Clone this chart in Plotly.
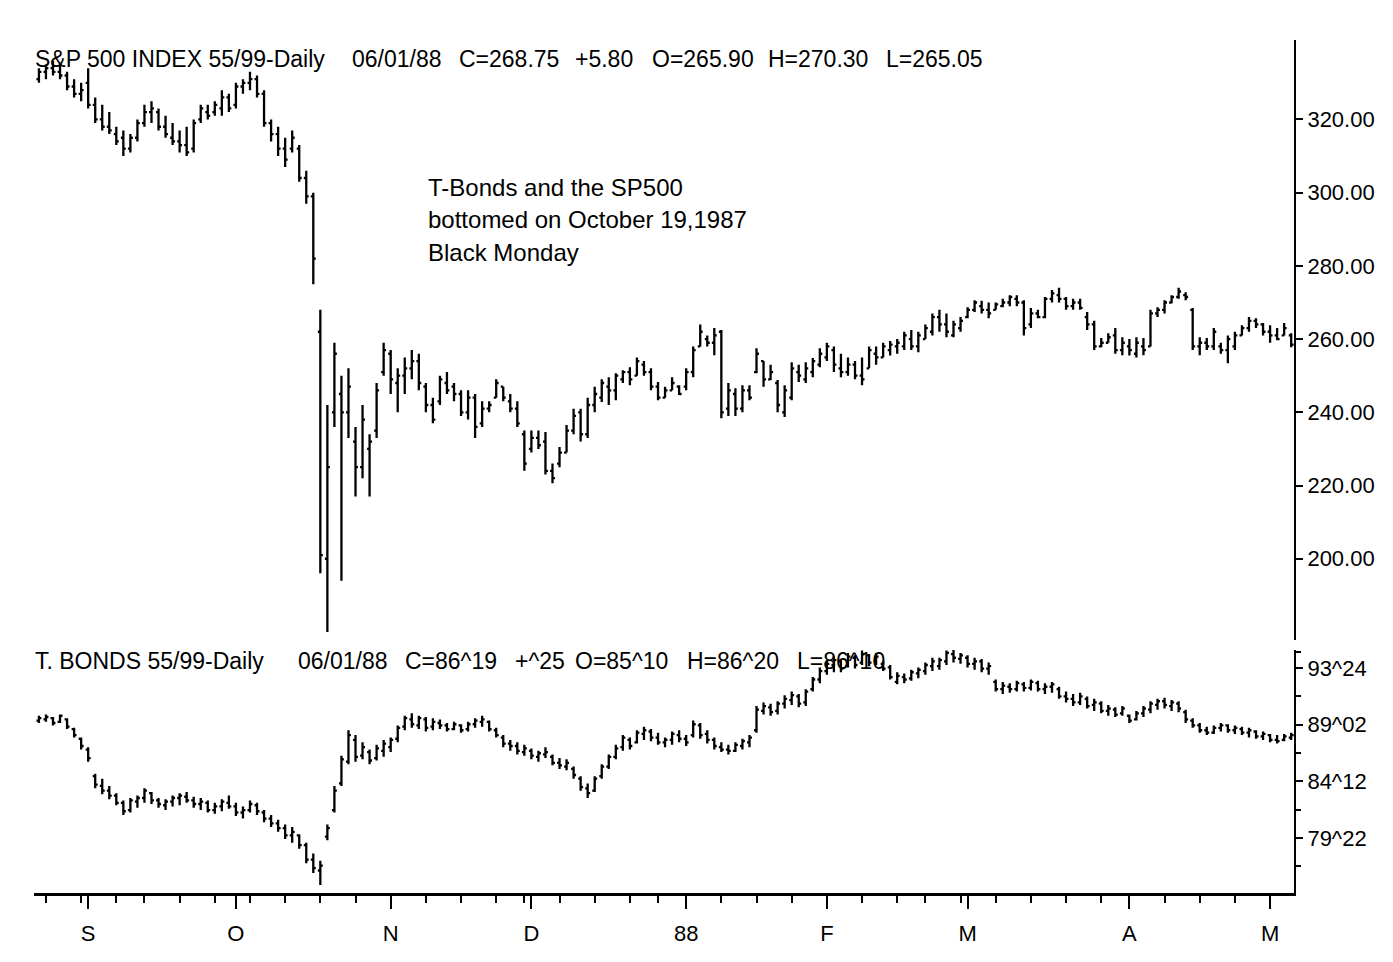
import pandas as pd
import plotly.graph_objects as go

# Trading calendar Aug 21 1987 - May 5 1988 (NYSE holidays removed)
HOLIDAYS = ["1987-09-07", "1987-11-26", "1987-12-25", "1988-01-01", "1988-02-15", "1988-04-01"]
dates = pd.bdate_range("1987-08-21", "1988-05-05", freq="C", holidays=HOLIDAYS)

MONTH_LABELS = ["S", "O", "N", "D", "88", "F", "M", "A", "M"]

# S&P 500 (daily OHLC)
sp_open = [331, 333, 334, 333, 332, 329, 327, 330, 324, 320, 318, 316, 315, 312, 315, 319, 322, 322, 318, 315,
           314, 313, 312, 320, 322, 322, 323, 326, 324, 329, 330, 331, 327, 319, 316, 312, 312, 312, 304, 299,
           262, 200, 240, 245, 240, 232, 225, 230, 235, 251, 256, 248, 250, 252, 254, 247, 242, 243, 248, 247,
           245, 240, 244, 237, 241, 244, 247, 243, 241, 234, 230, 233, 232, 224, 226, 229, 235, 240, 234, 242,
           244, 247, 246, 249, 251, 250, 253, 251, 247, 244, 246, 247, 247, 251, 258, 260, 259, 262, 241, 245,
           241, 246, 251, 254, 249, 248, 240, 244, 251, 249, 251, 253, 255, 257, 252, 251, 253, 250, 252, 256,
           255, 257, 258, 258, 260, 258, 260, 262, 266, 264, 261, 263, 266, 268, 269, 268, 268, 269, 270, 271,
           270, 264, 267, 266, 271, 272, 271, 269, 270, 266, 264, 258, 259, 261, 257, 258, 256, 258, 258, 267,
           268, 270, 271.5, 272, 268, 258, 259, 258, 258, 257, 258, 261, 263, 265, 264, 262, 261, 261, 261]
sp_high = [334, 335, 336, 335, 333, 331, 330, 334, 326, 324, 322, 318, 317, 316, 320, 324, 325, 323, 321, 319,
           317, 318, 320, 324, 324, 325, 328, 327, 330, 331, 333, 332, 328, 320, 318, 315, 317, 313, 306, 300,
           268, 242, 259, 250, 252, 236, 242, 234, 248, 259, 257, 252, 255, 257, 256, 248, 244, 250, 251, 248,
           246, 246, 245, 243, 243, 249, 247, 245, 243, 235, 235, 235, 234.6, 226, 230.5, 236.5, 241, 241, 244, 247,
           249, 249.6, 250.7, 251.5, 252.3, 255, 254, 252, 248.3, 247, 249.6, 247.4, 252, 258, 264, 261, 263, 262.5, 248, 246.6,
           247.4, 247.4, 257.5, 254, 253, 248.8, 247.4, 253.7, 253, 253.7, 254.8, 257.5, 259, 258, 256, 255, 254, 255, 258, 258,
           259, 259.5, 260, 262, 262.5, 262, 264, 267, 268, 267, 265, 266, 268.7, 270.6, 270.5, 270, 270, 271, 272, 272,
           270.6, 268.5, 268, 271.5, 273.4, 274, 271.5, 271, 271, 267.4, 265, 260.3, 261.6, 263, 260.5, 260, 260.5, 260.3, 268, 268.7,
           270.6, 272, 274, 272.8, 268.5, 260.5, 260.3, 263, 259, 261, 262, 263.8, 266, 265.7, 264.4, 263.8, 263, 264.4, 261.6]
sp_low = [330, 331, 332, 331, 328, 326, 325, 323, 319, 317, 316, 313, 310, 311, 314, 318, 319, 317, 315, 313,
          311, 310, 311, 319, 320, 321, 321, 322, 323, 327, 328, 326, 318, 314, 310, 307, 311, 303, 297, 275,
          196, 180, 236, 194, 233, 217, 222, 217, 233, 250, 245, 240, 245, 249, 246, 240, 237, 242, 245, 243,
          239, 238, 233, 236, 240, 244, 243, 240, 236, 224, 229, 230, 223, 220.6, 225, 229, 234, 232, 233, 240,
          242.8, 242, 243.3, 248, 247.4, 250, 250, 246, 243.3, 244, 246, 244.7, 246, 249.6, 258, 258, 255.6, 238.4, 239, 239,
          240, 243.3, 250.7, 247, 248.8, 240, 238.7, 243.3, 248.3, 248, 249.6, 252.3, 254, 251, 249.6, 250, 249, 247.4, 252, 253,
          255, 255.5, 256, 257, 257, 256.4, 260, 261, 262, 260.5, 260.5, 262, 265.7, 267.4, 267, 265.7, 268, 268.7, 269, 269,
          261, 263, 265.7, 265.7, 270, 270, 268, 268, 268, 262.5, 257, 257.8, 259, 256, 255.6, 255.5, 255, 255.6, 258, 266,
          267, 269.8, 271, 270.6, 257, 255.6, 257, 257, 256, 253.4, 257, 261, 262, 263, 261, 259, 259.7, 261, 257.8]
sp_close = [333, 334, 333, 332, 329, 327, 328, 324, 320, 318, 317, 314, 312, 315, 319, 322, 323, 318, 316, 314,
            313, 311, 319, 323, 321, 324, 326, 323, 329, 330, 331, 327, 319, 316, 312, 309, 315, 304, 299, 282,
            201, 225, 256, 240, 247, 225, 238, 232, 246, 257, 249, 250, 252, 254, 248, 242, 238, 249, 246, 245,
            240, 244, 236, 241, 242, 248, 244, 241, 237, 226, 233, 231, 224, 222, 229, 235, 239, 234, 242, 245,
            248, 246, 250, 251, 249, 254, 251, 247, 244, 246, 248, 245, 251, 257, 262, 259, 261, 240, 246, 241,
            246, 244, 256, 249, 251, 242, 246, 252, 250, 252, 254, 256, 258, 253, 251, 253, 250, 249, 257, 255,
            258, 258.5, 259, 261, 258, 261, 263, 266, 264, 262, 264, 265, 268, 270, 268, 267, 269.5, 270, 271.5, 270,
            263, 267, 266, 271, 272.5, 271, 269, 270, 268.5, 264, 258, 259, 260.5, 257, 259, 257, 259, 257, 267, 268,
            270, 271.5, 273, 271.5, 258, 259, 258, 262, 257, 260, 261, 263, 265, 264, 262, 261, 260, 263, 258.5]

# T-Bonds (daily OHLC, points; axis labelled in 32nds)
tb_open = [89.4, 89.5, 89.6, 89.3, 89.5, 88.7, 87.9, 87.0, 84.8, 84.0, 83.6, 83.2, 82.6, 82.0, 82.7, 83.0, 83.4, 82.8, 82.4, 82.7,
           83.0, 83.1, 82.8, 82.5, 82.6, 82.0, 82.3, 82.6, 82.3, 81.8, 82.0, 82.4, 81.8, 81.3, 80.9, 80.5, 79.9, 79.9, 79.1, 77.9,
           77.0, 79.8, 82.0, 84.2, 86.0, 87.8, 86.5, 86.8, 86.3, 86.9, 87.2, 87.9, 88.9, 89.5, 89.0, 89.5, 88.9, 89.2, 89.0, 88.7,
           89.0, 88.7, 89.1, 89.3, 89.3, 88.6, 88.0, 87.5, 87.3, 86.8, 86.9, 86.4, 86.6, 86.4, 85.9, 85.6, 85.4, 84.6, 83.8, 83.6,
           84.8, 85.6, 86.4, 87.2, 87.8, 87.6, 88.3, 88.5, 88.0, 87.6, 87.8, 88.2, 87.9, 88.2, 89.0, 88.3, 87.8, 87.2, 87.0, 86.9,
           87.3, 87.6, 88.6, 90.2, 90.5, 90.2, 90.8, 91.1, 91.4, 90.9, 92.0, 92.8, 93.5, 94.0, 94.3, 93.9, 94.6, 94.2, 94.8, 94.3,
           94.1, 93.8, 92.6, 93.0, 92.9, 93.3, 93.5, 93.9, 93.9, 94.3, 94.9, 94.5, 94.6, 94.1, 94.3, 93.7, 92.6, 92.0, 92.2, 92.0,
           92.4, 92.1, 92.5, 92.0, 92.2, 92.0, 91.4, 91.2, 90.9, 91.2, 90.7, 90.8, 90.2, 90.3, 90.0, 89.8, 89.5, 90.0, 90.3, 90.7,
           91.0, 90.6, 90.8, 90.1, 89.4, 89.0, 88.6, 88.4, 88.8, 89.0, 88.6, 88.7, 88.4, 88.5, 88.1, 88.2, 87.8, 87.8, 88.0]
tb_high = [89.8, 89.9, 89.7, 89.9, 89.6, 88.8, 88.0, 87.2, 85.0, 84.6, 84.0, 83.4, 82.8, 83.0, 83.2, 83.8, 83.5, 83.0, 82.9, 83.2,
           83.4, 83.5, 83.1, 83.0, 82.8, 82.6, 82.9, 83.2, 82.6, 82.3, 82.8, 82.6, 82.0, 81.6, 81.2, 80.8, 80.6, 80.0, 79.3, 78.4,
           77.8, 80.8, 84.0, 86.5, 88.6, 88.2, 87.6, 87.0, 87.4, 87.8, 88.0, 89.0, 89.8, 90.0, 89.8, 89.7, 89.6, 89.5, 89.2, 89.3,
           89.1, 89.3, 89.6, 89.8, 89.4, 88.8, 88.2, 87.8, 87.6, 87.4, 87.1, 86.9, 87.2, 86.6, 86.3, 86.2, 85.6, 84.8, 84.2, 84.8,
           85.8, 86.6, 87.4, 88.2, 88.0, 88.6, 88.9, 88.7, 88.4, 88.0, 88.5, 88.6, 88.2, 89.4, 89.2, 88.6, 88.0, 87.6, 87.4, 87.6,
           87.9, 88.2, 90.6, 90.9, 90.8, 91.0, 91.5, 91.8, 91.6, 92.0, 93.0, 93.8, 94.4, 94.7, 94.5, 95.0, 94.8, 95.2, 94.9, 95.0,
           94.3, 94.0, 93.4, 93.3, 93.6, 93.8, 94.2, 94.6, 94.6, 95.2, 95.4, 95.0, 94.8, 94.6, 94.5, 94.2, 92.8, 92.6, 92.5, 92.7,
           92.6, 92.8, 92.7, 92.5, 92.6, 92.2, 91.8, 91.6, 91.7, 91.4, 91.2, 91.0, 90.7, 90.5, 90.6, 89.9, 90.2, 90.6, 91.0, 91.2,
           91.3, 91.1, 91.0, 90.3, 89.6, 89.2, 88.9, 89.0, 89.2, 89.1, 89.0, 88.9, 88.8, 88.6, 88.5, 88.3, 88.2, 88.3, 88.4]
tb_low = [89.2, 89.3, 89.0, 89.2, 88.7, 88.0, 87.0, 86.0, 83.8, 83.3, 82.9, 82.4, 81.6, 81.8, 82.2, 82.6, 82.5, 82.2, 82.0, 82.3,
          82.4, 82.6, 82.2, 82.0, 81.8, 81.7, 81.9, 82.1, 81.5, 81.3, 81.8, 81.6, 81.0, 80.6, 80.2, 79.6, 79.3, 78.8, 77.6, 76.8,
          75.8, 79.5, 81.8, 84.0, 85.8, 86.0, 86.2, 85.8, 86.1, 86.4, 86.8, 87.6, 88.6, 88.8, 88.7, 88.5, 88.6, 88.7, 88.5, 88.6,
          88.4, 88.5, 88.8, 88.9, 88.5, 88.0, 87.2, 86.9, 86.6, 86.5, 86.2, 86.0, 86.3, 85.7, 85.4, 85.3, 84.6, 83.6, 83.0, 83.5,
          84.6, 85.4, 86.2, 86.9, 87.0, 87.5, 87.8, 87.7, 87.4, 87.2, 87.4, 87.6, 87.3, 88.0, 87.9, 87.5, 87.0, 86.8, 86.6, 86.8,
          87.0, 87.2, 88.4, 89.9, 89.8, 89.9, 90.4, 90.7, 90.5, 90.6, 91.8, 92.5, 93.2, 93.4, 93.4, 93.8, 93.7, 94.0, 93.9, 94.0,
          93.5, 92.8, 92.4, 92.5, 92.7, 92.9, 93.2, 93.5, 93.6, 94.0, 94.2, 94.1, 93.8, 93.6, 93.4, 93.2, 91.8, 91.6, 91.7, 91.8,
          91.8, 91.9, 91.8, 91.6, 91.7, 91.2, 90.9, 90.6, 90.7, 90.4, 90.2, 90.0, 89.8, 89.7, 89.8, 89.2, 89.4, 89.7, 90.0, 90.3,
          90.4, 90.2, 90.1, 89.2, 88.8, 88.4, 88.2, 88.3, 88.5, 88.4, 88.3, 88.2, 88.0, 87.9, 87.8, 87.6, 87.5, 87.7, 87.8]
tb_close = [89.6, 89.7, 89.2, 89.8, 88.9, 88.2, 87.3, 86.3, 84.1, 83.6, 83.2, 82.6, 81.9, 82.8, 83.0, 83.6, 82.8, 82.5, 82.7, 83.0,
            83.2, 82.8, 82.5, 82.7, 82.0, 82.3, 82.7, 82.3, 81.8, 82.0, 82.5, 81.9, 81.3, 80.9, 80.5, 79.9, 80.2, 79.1, 77.9, 77.2,
            77.4, 80.5, 83.6, 86.2, 88.2, 86.4, 87.2, 86.1, 87.1, 87.5, 87.8, 88.8, 89.6, 89.1, 89.6, 88.8, 89.3, 89.0, 88.7, 89.1,
            88.6, 89.1, 89.4, 89.5, 88.7, 88.2, 87.5, 87.3, 86.9, 87.1, 86.5, 86.7, 86.8, 85.9, 85.7, 85.9, 84.9, 83.9, 83.4, 84.6,
            85.6, 86.4, 87.1, 88.0, 87.3, 88.4, 88.6, 88.0, 87.6, 87.8, 88.3, 87.9, 87.6, 89.1, 88.2, 87.8, 87.3, 87.0, 86.9, 87.4,
            87.7, 88.0, 90.3, 90.6, 90.1, 90.8, 91.2, 91.5, 90.8, 91.8, 92.8, 93.5, 94.1, 94.4, 93.7, 94.7, 94.0, 94.9, 94.2, 94.7,
            93.7, 93.0, 93.1, 92.8, 93.4, 93.6, 94.0, 94.3, 94.4, 95.0, 94.6, 94.8, 94.1, 94.3, 93.7, 93.9, 92.0, 92.3, 92.0, 92.5,
            92.1, 92.6, 92.0, 92.2, 92.4, 91.4, 91.2, 90.9, 91.4, 90.6, 90.9, 90.2, 90.4, 89.9, 90.4, 89.4, 90.0, 90.4, 90.8, 91.0,
            90.7, 90.9, 90.4, 89.5, 89.0, 88.6, 88.4, 88.8, 89.0, 88.6, 88.8, 88.4, 88.6, 88.1, 88.3, 87.8, 87.7, 88.1, 88.2]

SP_TICKS = [200, 220, 240, 260, 280, 300, 320]
TB_TICKS = [79.6875, 84.375, 89.0625, 93.75]
TB_TICK_TEXT = ["79^22", "84^12", "89^02", "93^24"]

# the page puts the figure 8 px in from the top-left corner
PAGE_OFF = 8
W, H = 1393 - 2 * PAGE_OFF, 962 - 2 * PAGE_OFF
FONT = "Arial, Liberation Sans, sans-serif"
idx = list(range(len(dates)))

# month and week starts on the trading-day axis
month_starts = [i for i in idx if i == 0 or dates[i].month != dates[i - 1].month][1:]
week_starts = [i for i in idx if i > 0 and dates[i].weekday() < dates[i - 1].weekday()]


def px_x(p):
    return (p - PAGE_OFF) / W


def px_y(p):
    return 1 - (p - PAGE_OFF) / H


bar_style = dict(
    increasing=dict(line=dict(color="black", width=2.3)),
    decreasing=dict(line=dict(color="black", width=2.3)),
    tickwidth=0.35,
    hoverinfo="skip",
    showlegend=False,
)

fig = go.Figure()
fig.add_trace(go.Ohlc(x=idx, open=sp_open, high=sp_high, low=sp_low, close=sp_close,
                      xaxis="x2", yaxis="y2", **bar_style))
fig.add_trace(go.Ohlc(x=idx, open=tb_open, high=tb_high, low=tb_low, close=tb_close,
                      xaxis="x", yaxis="y", **bar_style))

xdom = [px_x(34), px_x(1294)]
xrange = [-0.7, len(idx) - 0.6]
tick_font = dict(family=FONT, size=22, color="black")

fig.update_layout(
    width=W, height=H,
    margin=dict(l=0, r=0, t=0, b=0),
    paper_bgcolor="white", plot_bgcolor="white",
    showlegend=False,
    hovermode=False,
    xaxis=dict(
        domain=xdom, range=xrange, anchor="y",
        tickmode="array", tickvals=month_starts, ticktext=MONTH_LABELS,
        ticks="outside", ticklen=13, tickwidth=2, tickcolor="black",
        minor=dict(tickmode="array", tickvals=week_starts, ticks="outside", ticklen=7, tickwidth=2, tickcolor="black"),
        showline=True, linewidth=3, linecolor="black",
        showgrid=False, zeroline=False,
        tickfont=tick_font, ticklabelstandoff=6,
        rangeslider=dict(visible=False),
    ),
    xaxis2=dict(
        domain=xdom, range=xrange, anchor="y2", matches="x",
        showticklabels=False, ticks="", showline=False, showgrid=False, zeroline=False,
        rangeslider=dict(visible=False),
    ),
    yaxis=dict(
        domain=[px_y(893), px_y(650)], range=[75.14, 95.24], anchor="x", side="right",
        tickmode="array", tickvals=TB_TICKS, ticktext=TB_TICK_TEXT,
        ticks="outside", ticklen=7, tickwidth=2, tickcolor="black",
        minor=dict(tickmode="array", tickvals=[77.34, 82.03, 86.72, 91.41, 95.1],
                   ticks="outside", ticklen=5, tickwidth=2, tickcolor="black"),
        showline=True, linewidth=2, linecolor="black",
        showgrid=False, zeroline=False, tickfont=tick_font,
    ),
    yaxis2=dict(
        domain=[px_y(640), px_y(40)], range=[177.8, 341.7], anchor="x2", side="right",
        tickmode="array", tickvals=SP_TICKS, ticktext=[f"{v:.2f}" for v in SP_TICKS],
        ticks="outside", ticklen=7, tickwidth=2, tickcolor="black",
        showline=True, linewidth=2, linecolor="black",
        showgrid=False, zeroline=False, tickfont=tick_font,
    ),
)


def label(x, y, text, size=23):
    fig.add_annotation(x=px_x(x), y=px_y(y), xref="paper", yref="paper", text=text,
                       showarrow=False, xanchor="left", yanchor="middle",
                       font=dict(family=FONT, size=size, color="black"))


# header lines
for x, t in [(33, "S&P 500 INDEX 55/99-Daily"), (350, "06/01/88"), (457, "C=268.75"), (573, "+5.80"),
             (650, "O=265.90"), (766, "H=270.30"), (884, "L=265.05")]:
    label(x, 59, t)
for x, t in [(33, "T. BONDS 55/99-Daily"), (296, "06/01/88"), (403, "C=86^19"), (513, "+^25"),
             (573, "O=85^10"), (685, "H=86^20"), (795, "L=86^10")]:
    label(x, 661, t)

# note
for y, t in [(187, "T-Bonds and the SP500"), (220, "bottomed on October 19,1987"), (253, "Black Monday")]:
    label(426, y, t, size=24)

fig.write_html("out.html")
